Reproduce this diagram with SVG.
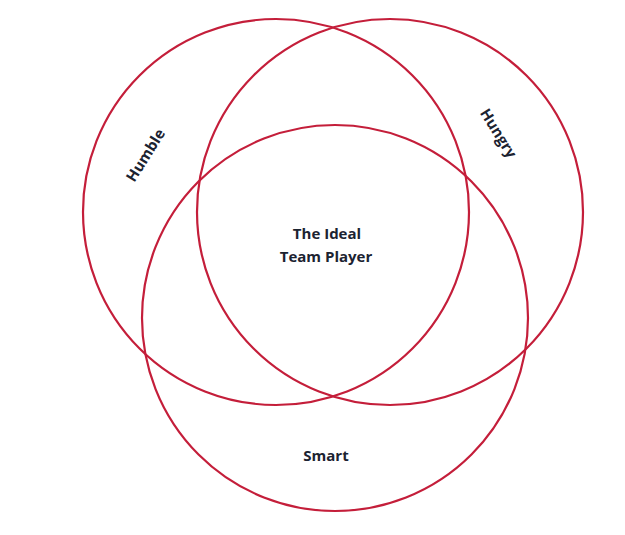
<svg xmlns="http://www.w3.org/2000/svg" width="625" height="535" viewBox="0 0 625 535">
<style>
.c{fill:none;stroke:#c41e3a;stroke-width:2.2}
.t{font-family:"Open Sans","Liberation Sans",sans-serif;font-weight:700;font-size:15px;fill:#1c2331;text-anchor:middle}
</style>
<rect width="625" height="535" fill="#fff"/>
<g id="humble"><circle class="c" cx="276" cy="212" r="193"/><text class="t" transform="translate(150,158) rotate(-58)">Humble</text></g>
<g id="hungry"><circle class="c" cx="390" cy="212" r="193"/><text class="t" transform="translate(494,136) rotate(58)">Hungry</text></g>
<g id="smart"><circle class="c" cx="335" cy="318" r="193"/><text class="t" x="326" y="461">Smart</text></g>
<g id="ideal"><text class="t" x="327" y="239">The Ideal</text><text class="t" x="326" y="262">Team Player</text></g>
<g id="connectors"/>
</svg>
